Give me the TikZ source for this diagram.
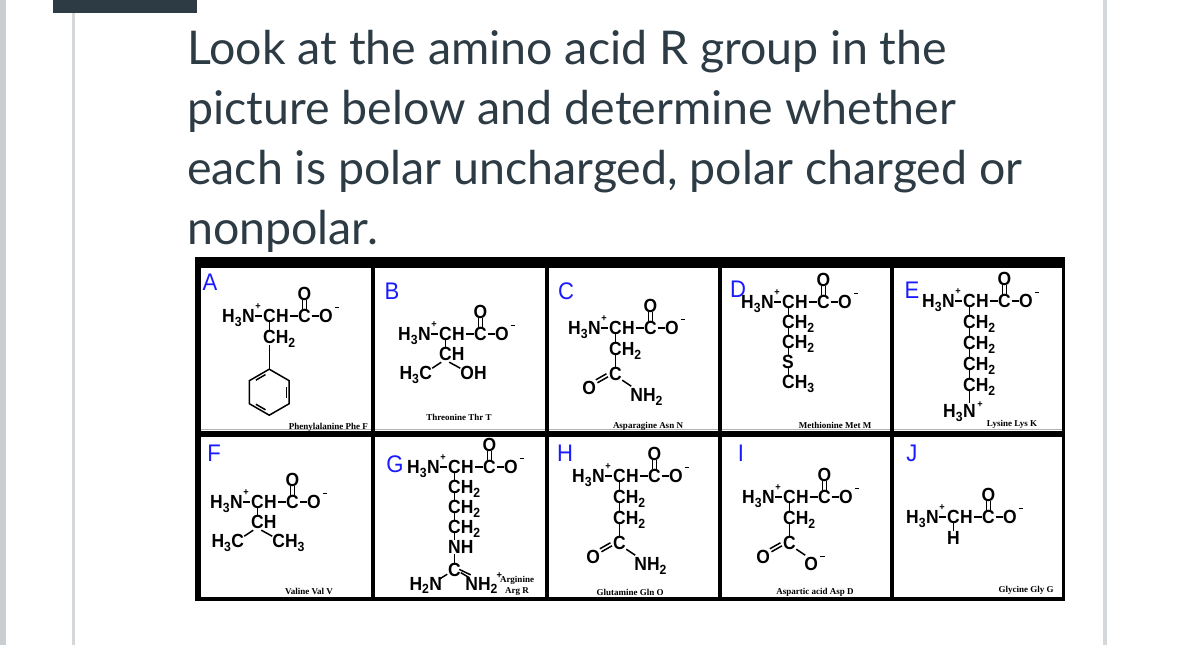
\documentclass[tikz,border=0pt]{standalone}
\usepackage{fontspec}
\usetikzlibrary{calc}
\newfontfamily\titlefont{Lato}
\newfontfamily\chemf{Liberation Sans}[FakeStretch=0.92]
\newfontfamily\serf{Liberation Serif}
\definecolor{slate}{HTML}{2D3B45}
\definecolor{lblue}{HTML}{1A1AFF}
\newcommand\bb[3]{%
\node[atom] (#1N) at (#2,#3) {H\textsubscript{3}N};
\node[atom] (#1C) at ([xshift=8pt]#1N.base east) {C};
\coordinate (#1Cc) at ([xshift=6.3pt,yshift=6.8pt]#1C.base west);
\node[atom] (#1H) at (#1C.base east) {H};
\node[atom] (#1K) at ([xshift=9pt]#1H.base east) {C};
\node[atom] (#1O) at ([xshift=8pt]#1K.base east) {O};
\node[atom,anchor=base] (#1KO) at ([yshift=22.5pt]#1K.base) {O};
\draw[bond] ([xshift=0.5pt,yshift=6.8pt]#1N.base east) -- ([xshift=-0.5pt,yshift=6.8pt]#1C.base west);
\draw[bond] ([xshift=0.5pt,yshift=6.8pt]#1H.base east) -- ([xshift=-0.5pt,yshift=6.8pt]#1K.base west);
\draw[bond] ([xshift=0.5pt,yshift=6.8pt]#1K.base east) -- ([xshift=-0.5pt,yshift=6.8pt]#1O.base west);
\draw[bond] ([xshift=-1.8pt,yshift=14pt]#1K.base) -- ([xshift=-1.8pt,yshift=22.5pt]#1K.base);
\draw[bond] ([xshift=1.8pt,yshift=14pt]#1K.base) -- ([xshift=1.8pt,yshift=22.5pt]#1K.base);
\node[chg] at ([xshift=3pt,yshift=16pt]#1N.base east) {+};
\draw[line width=1pt] ([xshift=1.5pt,yshift=15pt]#1O.base east) -- ++(4.5pt,0);
}
\newcommand\sub[4]{%
\node[atom] (#1) at ([yshift=-#4pt]#2.base west) {#3};
\coordinate (#1c) at ([xshift=6.3pt,yshift=6.8pt]#1.base west);
\draw[bond] ([xshift=6.3pt,yshift=1pt]#2.base west) -- ([xshift=6.3pt,yshift={14pt-#4pt}]#2.base west);
}
\newcommand\branch[4]{% name, center coord, left text, right text
\node[atom,anchor=base east] (#1L) at ($(#2)+(-13,-25.8)$) {#3};
\node[atom] (#1R) at ($(#2)+(15,-25.8)$) {#4};
\draw[bond] ($(#2)+(-4,-8)$) -- ($(#2)+(-13,-14)$);
\draw[bond] ($(#2)+(4,-8)$) -- ($(#2)+(15,-14)$);
}
\newcommand\carb[3]{% name, upper node, right text
\node[atom] (#1) at ([yshift=-25pt]#2.base west) {C};
\coordinate (#1c) at ([xshift=6.3pt,yshift=6.8pt]#1.base west);
\draw[bond] ([xshift=6.3pt,yshift=1pt]#2.base west) -- ([xshift=6.3pt,yshift=-11pt]#2.base west);
\node[atom,anchor=center] (#1O) at ($(#1c)+(-26,-14)$) {O};
\node[atom] (#1R) at ($(#1c)+(15,-27.8)$) {#3};
\draw[bond] ($(#1c)+(-7.2,-2.6)$) -- ($(#1c)+(-17.8,-8.6)$);
\draw[bond] ($(#1c)+(-8.8,0.4)$) -- ($(#1c)+(-19.4,-5.6)$);
\draw[bond] ($(#1c)+(7,-6)$) -- ($(#1c)+(16,-12)$);
}
\begin{document}
\begin{tikzpicture}[x=1pt,y=1pt,
  atom/.style={font=\chemf\bfseries\fontsize{19}{19}\selectfont,inner sep=0pt,anchor=base west},
  chg/.style={font=\chemf\bfseries\fontsize{10}{10}\selectfont,inner sep=0pt},
  bond/.style={line width=1.5pt},
  lab/.style={font=\serf\bfseries\fontsize{9}{9}\selectfont,inner sep=0pt,anchor=base},
  letter/.style={font=\chemf\fontsize{24}{24}\selectfont,text=lblue,inner sep=0pt}]
\useasboundingbox (0,0) rectangle (1179,645);
\fill[white] (0,0) rectangle (1179,645);
\fill[slate!25] (0,0) rectangle (6,645);
\fill[slate!20] (72,0) rectangle (75,632);
\fill[slate!20] (1103,0) rectangle (1107,645);
\fill[slate] (53,632) rectangle (197,645);
% title
\node[font=\titlefont\fontsize{46.5}{60}\selectfont,text=slate,anchor=base west,inner sep=0pt,align=left] (title) at (187,400)
 {Look at the amino acid R group in the\\picture below and determine whether\\each is polar uncharged, polar charged or\\nonpolar.};
% frame
\fill[black] (195,44) rectangle (1065,388);
\foreach \a/\b in {201/371,375/545,549/718,722/890,894/1062}{
  \fill[white] (\a,214) rectangle (\b,377);
  \fill[white] (\a,48) rectangle (\b,208);
  \draw[gray!60,line width=1pt] (\a,215) -- (\b,215);
}
% letters
\node[letter] (LA) at (210,363) {A};
\node[letter] (LB) at (392,354) {B};
\node[letter] (LC) at (566,354) {C};
\node[letter] (LD) at (738,356) {D};
\node[letter] (LE) at (912,355) {E};
\node[letter] (LF) at (214,192) {F};
\node[letter] (LG) at (395,181) {G};
\node[letter] (LH) at (565,192) {H};
\node[letter] (LI) at (741,192) {I};
\node[letter] (LJ) at (912,192) {J};
% A Phe
\bb{a}{222}{322}
\sub{aS1}{aC}{CH\textsubscript{2}}{21}
\coordinate (ar) at ($(aS1c)+(0,-55)$);
\draw[bond] ([yshift=-8pt]aS1c) -- ($(ar)+(90:23)$);
\draw[bond] ($(ar)+(90:23)$) -- ($(ar)+(30:23)$) -- ($(ar)+(-30:23)$) -- ($(ar)+(-90:23)$) -- ($(ar)+(-150:23)$) -- ($(ar)+(150:23)$) -- cycle;
\foreach \p/\q in {138/102,18/-18,-102/-138}{\draw[bond] ($(ar)+(\p:18)$) -- ($(ar)+(\q:18)$);}
\node[lab,anchor=base east] (tA) at (368,215) {Phenylalanine Phe F};
% B Thr
\bb{b}{398}{304}
\sub{bS1}{bC}{CH}{20}
\branch{bB}{bS1c}{H\textsubscript{3}C}{OH}
\node[lab] (tB) at (459,224) {Threonine Thr T};
% C Asn
\bb{c}{568}{310}
\sub{cS1}{cC}{CH\textsubscript{2}}{21}
\carb{cX}{cS1}{NH\textsubscript{2}}
\node[lab] (tC) at (648,216) {Asparagine Asn N};
% D Met
\bb{d}{741}{336}
\sub{dS1}{dC}{CH\textsubscript{2}}{20}
\sub{dS2}{dS1}{CH\textsubscript{2}}{20}
\sub{dS3}{dS2}{S}{20}
\sub{dS4}{dS3}{CH\textsubscript{3}}{20}
\node[lab] (tD) at (835,216) {Methionine Met M};
% E Lys
\bb{e}{922}{337}
\sub{eS1}{eC}{CH\textsubscript{2}}{21}
\sub{eS2}{eS1}{CH\textsubscript{2}}{21}
\sub{eS3}{eS2}{CH\textsubscript{2}}{21}
\sub{eS4}{eS3}{CH\textsubscript{2}}{21}
\node[atom,anchor=base east] (eNt) at ([xshift=13pt,yshift=-26pt]eS4.base west) {H\textsubscript{3}N};
\draw[bond] ([xshift=6.3pt,yshift=1pt]eS4.base west) -- ([xshift=6.3pt,yshift=-11pt]eS4.base west);
\node[chg] at ([xshift=4pt,yshift=13pt]eNt.base east) {+};
\node[lab] (tE) at (1012,218) {Lysine Lys K};
% F Val
\bb{f}{210}{136}
\sub{fS1}{fC}{CH}{20}
\branch{fB}{fS1c}{H\textsubscript{3}C}{CH\textsubscript{3}}
\node[lab] (tF) at (309,50) {Valine Val V};
% G Arg
\bb{g}{407}{171}
\sub{gS1}{gC}{CH\textsubscript{2}}{20}
\sub{gS2}{gS1}{CH\textsubscript{2}}{20}
\sub{gS3}{gS2}{CH\textsubscript{2}}{20}
\sub{gS4}{gS3}{NH}{20}
\node[atom] (gX) at ([yshift=-23pt]gS4.base west) {C};
\coordinate (gXc) at ([xshift=6.3pt,yshift=6.8pt]gX.base west);
\draw[bond] ([xshift=6.3pt,yshift=0pt]gS4.base west) -- ([xshift=6.3pt,yshift=-9pt]gS4.base west);
\node[atom,anchor=base east] (gL) at ($(gXc)+(-12,-20)$) {H\textsubscript{2}N};
\node[atom] (gR) at ($(gXc)+(11,-20)$) {NH\textsubscript{2}};
\node[chg] at ([xshift=1pt,yshift=15pt]gR.base east) {+};
\draw[bond] ($(gXc)+(-7,-4)$) -- ($(gXc)+(-15,-9)$);
\draw[bond] ($(gXc)+(6.5,-2.4)$) -- ($(gXc)+(15,-7.5)$);
\draw[bond] ($(gXc)+(5,0.8)$) -- ($(gXc)+(16.5,-4.7)$);
\node[lab] (tG1) at (517,62) {Arginine};
\node[lab] (tG2) at (517,51) {Arg R};
% H Gln
\bb{h}{572}{162}
\sub{hS1}{hC}{CH\textsubscript{2}}{21}
\sub{hS2}{hS1}{CH\textsubscript{2}}{21}
\carb{hX}{hS2}{NH\textsubscript{2}}
\node[lab] (tH) at (630,49) {Glutamine Gln O};
% I Asp
\bb{i}{742}{141}
\sub{iS1}{iC}{CH\textsubscript{2}}{21}
\carb{iX}{iS1}{O}
\draw[line width=1pt] ([xshift=2pt,yshift=14pt]iXR.base east) -- ++(4.5pt,0);
\node[lab] (tI) at (815,50) {Aspartic acid Asp D};
% J Gly
\bb{j}{906}{121}
\sub{jS1}{jC}{H}{21}
\node[lab] (tJ) at (1026,52) {Glycine Gly G};
\end{tikzpicture}
\end{document}
